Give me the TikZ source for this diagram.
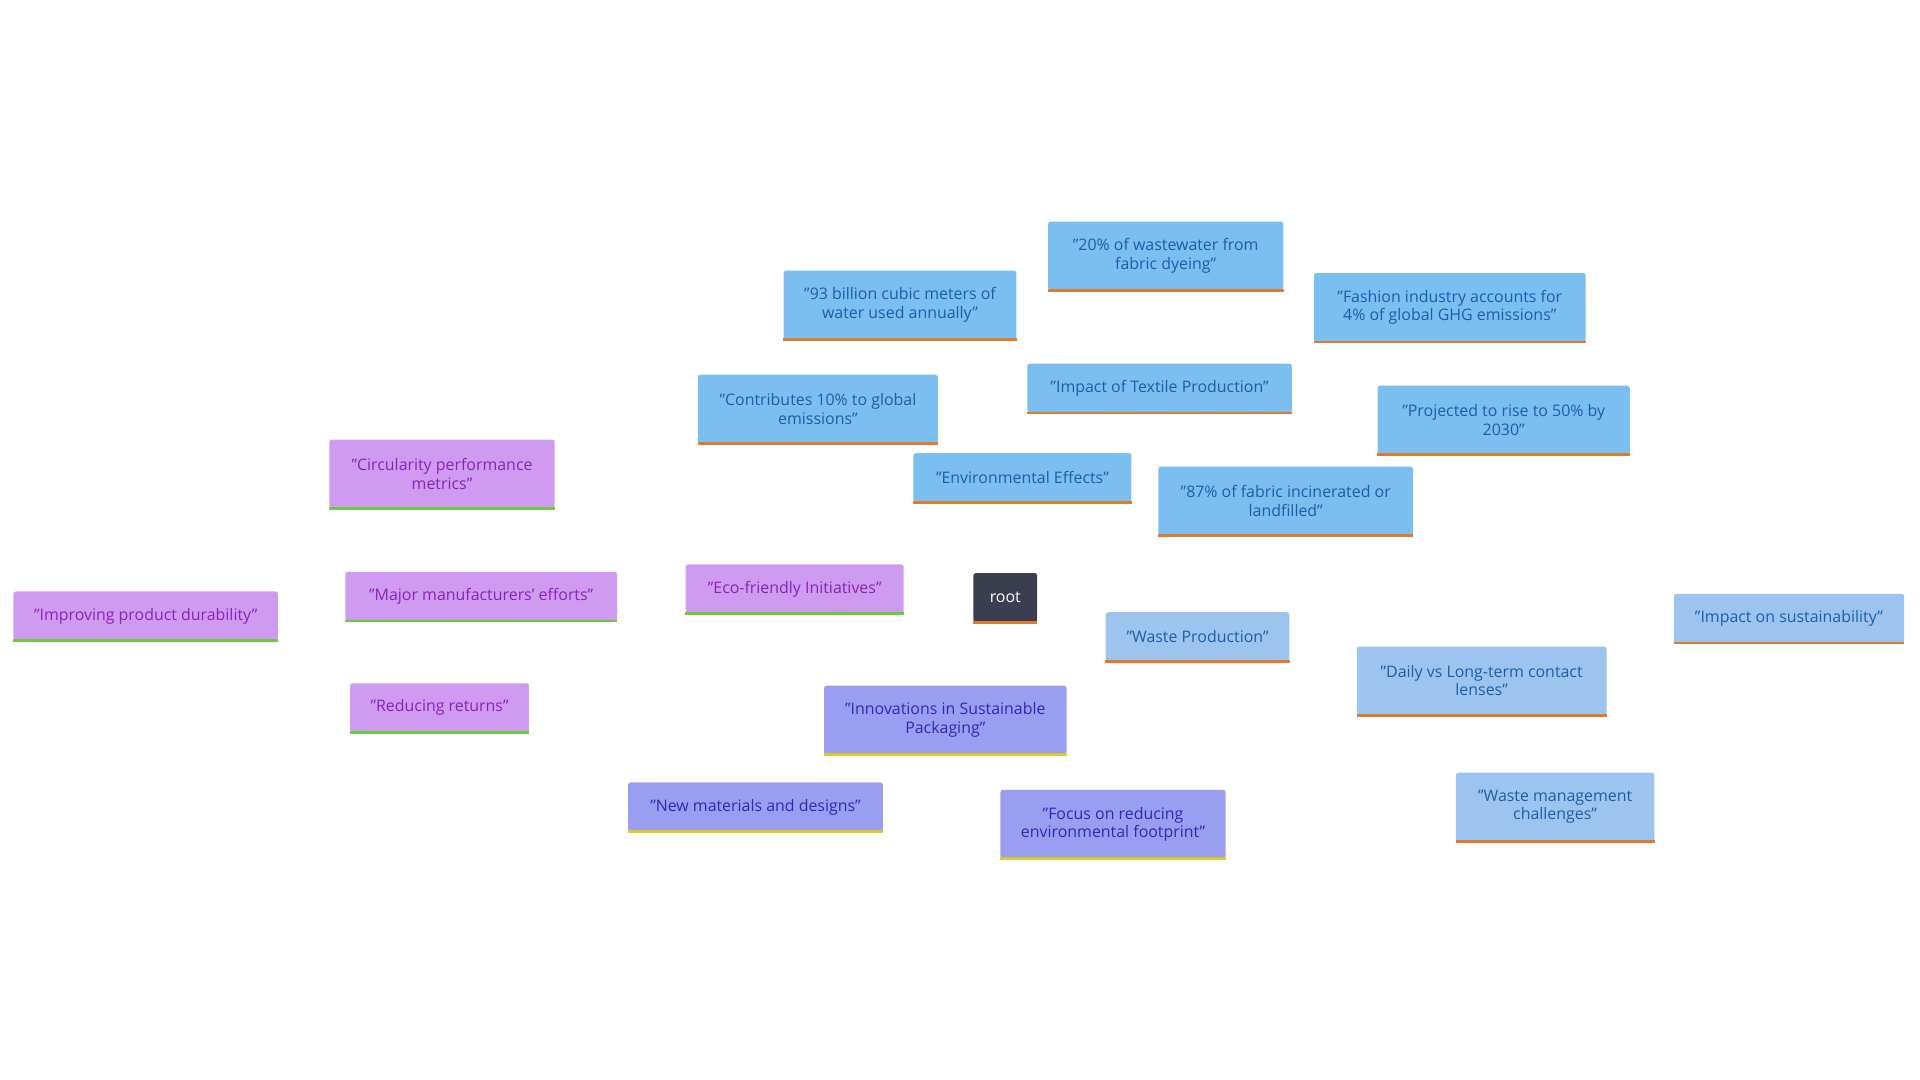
\documentclass[tikz,border=0pt]{standalone}
\usepackage{fontspec}
\setmainfont{Open Sans}
\usetikzlibrary{backgrounds}
\definecolor{bluefill}{HTML}{7ABFF0}
\definecolor{bluetext}{HTML}{1A5FA8}
\definecolor{lbluefill}{HTML}{9DC4EF}
\definecolor{purplefill}{HTML}{CF9BF1}
\definecolor{purpletext}{HTML}{8A22B8}
\definecolor{indigofill}{HTML}{9A9EF1}
\definecolor{indigotext}{HTML}{2A2CB0}
\definecolor{rootfill}{HTML}{3B3E50}
\definecolor{orangeline}{HTML}{E07B2E}
\definecolor{greenline}{HTML}{6CC93A}
\definecolor{yellowline}{HTML}{D9CC2A}
\tikzset{
  box/.style={rectangle, rounded corners=2pt, align=center, inner sep=2pt,
    font=\fontsize{13}{15}\selectfont},
  under/.style={append after command={(\tikzlastnode.south west) edge[draw=#1, line width=2.2pt] (\tikzlastnode.south east)}},
  bluebox/.style={box, fill=bluefill, text=bluetext, under=orangeline},
  lbluebox/.style={box, fill=lbluefill, text=bluetext, under=orangeline},
  purplebox/.style={box, fill=purplefill, text=purpletext, under=greenline},
  indigobox/.style={box, fill=indigofill, text=indigotext, under=yellowline},
  link/.style={draw=#1, line width=2.5pt}
}
\begin{document}
\begin{tikzpicture}[x=1pt,y=-1pt]
  \useasboundingbox[fill=white] (0,0) rectangle (1568,882);
  \node [box, fill=rootfill, text=white, under=orangeline, minimum width=52, minimum height=40] (root) at (821,488) {root};
  % blue branch
  \node [bluebox, minimum width=178, minimum height=40] (env) at (835,390) {"Environmental Effects"};
  \node [bluebox, minimum width=216, minimum height=40] (impact) at (947,317) {"Impact of Textile Production"};
  \node [bluebox, minimum width=190, minimum height=56] (water) at (735,249) {"93 billion cubic meters of\\water used annually"};
  \node [bluebox, minimum width=192, minimum height=56] (dye) at (952,209) {"20\% of wastewater from\\fabric dyeing"};
  \node [bluebox, minimum width=222, minimum height=56] (ghg) at (1184,251) {"Fashion industry accounts for\\4\% of global GHG emissions"};
  \node [bluebox, minimum width=196, minimum height=56] (contrib) at (668,334) {"Contributes 10\% to global\\emissions"};
  \node [bluebox, minimum width=206, minimum height=56] (proj) at (1228,343) {"Projected to rise to 50\% by\\2030"};
  \node [bluebox, minimum width=208, minimum height=56] (fabric) at (1050,409) {"87\% of fabric incinerated or\\landfilled"};
  % light blue branch
  \node [lbluebox, minimum width=150, minimum height=40] (waste) at (978,520) {"Waste Production"};
  \node [lbluebox, minimum width=204, minimum height=56] (lens) at (1210,556) {"Daily vs Long-term contact\\lenses"};
  \node [lbluebox, minimum width=188, minimum height=40] (sust) at (1461,505) {"Impact on sustainability"};
  \node [lbluebox, minimum width=162, minimum height=56] (mgmt) at (1270,659) {"Waste management\\challenges"};
  % purple branch
  \node [purplebox, minimum width=178, minimum height=40] (eco) at (649,481) {"Eco-friendly Initiatives"};
  \node [purplebox, minimum width=222, minimum height=40] (major) at (393,487) {"Major manufacturers' efforts"};
  \node [purplebox, minimum width=184, minimum height=56] (circ) at (361,387) {"Circularity performance\\metrics"};
  \node [purplebox, minimum width=216, minimum height=40] (durab) at (119,503) {"Improving product durability"};
  \node [purplebox, minimum width=146, minimum height=40] (returns) at (359,578) {"Reducing returns"};
  % indigo branch
  \node [indigobox, minimum width=198, minimum height=56] (innov) at (772,588) {"Innovations in Sustainable\\Packaging"};
  \node [indigobox, minimum width=208, minimum height=40] (newmat) at (617,659) {"New materials and designs"};
  \node [indigobox, minimum width=184, minimum height=56] (focus) at (909,673) {"Focus on reducing\\environmental footprint"};
  \begin{scope}[on background layer]
    \path [link=bluefill] (root) -- (env);
    \path [link=bluefill] (env.center) -- (impact.center);
    \foreach \n in {water,dye,ghg,contrib,proj,fabric}
      \path [link=bluefill] (impact.center) -- (\n.center);
    \path [link=lbluefill] (root.center) -- (waste.center);
    \path [link=lbluefill] (waste.center) -- (lens.center);
    \path [link=lbluefill] (lens.center) -- (sust.center);
    \path [link=lbluefill] (lens.center) -- (mgmt.center);
    \path [link=purplefill] (root.center) -- (eco.center);
    \path [link=purplefill] (eco.center) -- (major.center);
    \foreach \n in {circ,durab,returns}
      \path [link=purplefill] (major.center) -- (\n.center);
    \path [link=indigofill] (root.center) -- (innov.center);
    \path [link=indigofill] (innov.center) -- (newmat.center);
    \path [link=indigofill] (innov.center) -- (focus.center);
  \end{scope}
\end{tikzpicture}
\end{document}
